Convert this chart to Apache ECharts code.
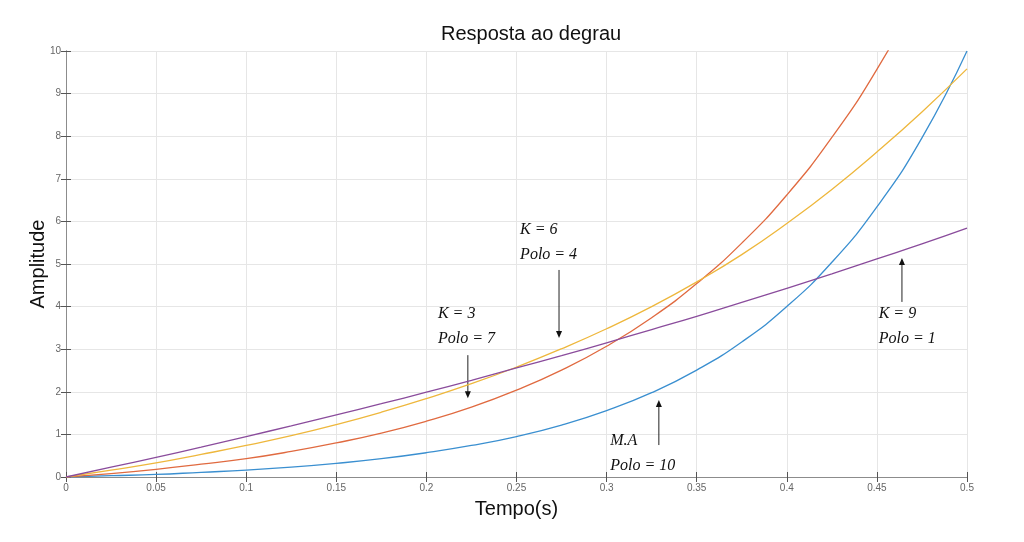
<!DOCTYPE html>
<html>
<head>
<meta charset="utf-8">
<script src="https://cdn.jsdelivr.net/npm/echarts@6/dist/echarts.min.js"></script>
<style>
  html, body { margin: 0; padding: 0; background: #fff; }
  #main { width: 1024px; height: 542px; }
</style>
</head>
<body>
<div id="main"></div>
<script>
// tempo (s)
const tempo = [0, 0.025, 0.05, 0.075, 0.1, 0.125, 0.15, 0.175, 0.2, 0.225, 0.25,
  0.275, 0.3, 0.325, 0.35, 0.375, 0.4, 0.425, 0.45, 0.475, 0.5];

// M.A, polo = 10
const malhaAberta = [0, 0.03, 0.06, 0.11, 0.16, 0.23, 0.32, 0.43, 0.57, 0.74, 0.95,
  1.22, 1.56, 1.98, 2.51, 3.17, 4.0, 5.04, 6.34, 7.96, 10.0];
// K = 3, polo = 7
const k3 = [0, 0.08, 0.18, 0.3, 0.43, 0.6, 0.8, 1.03, 1.31, 1.64, 2.04,
  2.51, 3.07, 3.74, 4.54, 5.49, 6.62, 7.97, 9.57, 11.49, 13.76];
// K = 6, polo = 4
const k6 = [0, 0.16, 0.33, 0.53, 0.74, 0.97, 1.23, 1.52, 1.84, 2.19, 2.58,
  3.01, 3.48, 4.0, 4.58, 5.22, 5.95, 6.75, 7.63, 8.57, 9.58];
// K = 9, polo = 1
const k9 = [0, 0.23, 0.46, 0.7, 0.95, 1.2, 1.46, 1.72, 1.99, 2.27, 2.56,
  2.85, 3.15, 3.46, 3.77, 4.1, 4.43, 4.77, 5.12, 5.47, 5.84];

const pares = (ys) => tempo.map((t, i) => [t, ys[i]]);

const chart = echarts.init(document.getElementById('main'));

const eixoCinza = '#8c8c8c';
const fonte = '"Liberation Sans", Arial, sans-serif';

const serie = (nome, ys, cor) => ({
  name: nome,
  type: 'line',
  data: pares(ys),
  smooth: true,
  showSymbol: false,
  clip: true,
  lineStyle: { color: cor, width: 1.3 },
  itemStyle: { color: cor },
  silent: true
});

const option = {
  animation: false,
  backgroundColor: '#fff',
  title: {
    text: 'Resposta ao degrau',
    left: 436,
    top: 19,
    textStyle: { fontFamily: fonte, fontSize: 20, fontWeight: 'normal', color: '#111' }
  },
  grid: { left: 66, right: 57, top: 51, bottom: 65 },
  xAxis: [{
    type: 'value', min: 0, max: 0.5, interval: 0.05,
    name: 'Tempo(s)', nameLocation: 'middle', nameGap: 22,
    nameTextStyle: { fontFamily: fonte, fontSize: 20, color: '#111' },
    axisLine: { show: true, lineStyle: { color: eixoCinza, width: 1 } },
    axisTick: { show: true, inside: true, length: 5, lineStyle: { color: '#555' } },
    axisLabel: { fontFamily: fonte, fontSize: 10, color: '#666', margin: 6 },
    splitLine: { show: true, lineStyle: { color: '#e6e6e6', width: 1 } }
  }, {
    type: 'value', min: 0, max: 0.5, interval: 0.05, position: 'top',
    axisLine: { show: true, lineStyle: { color: eixoCinza, width: 1 } },
    axisTick: { show: true, inside: true, length: 5, lineStyle: { color: '#555' } },
    axisLabel: { show: false },
    splitLine: { show: false }
  }],
  yAxis: [{
    type: 'value', min: 0, max: 10, interval: 1,
    name: 'Amplitude', nameLocation: 'middle', nameGap: 18, nameMoveOverlap: false,
    nameTextStyle: { fontFamily: fonte, fontSize: 20, color: '#111' },
    axisLine: { show: true, lineStyle: { color: eixoCinza, width: 1 } },
    axisTick: { show: true, inside: true, length: 5, lineStyle: { color: '#555' } },
    axisLabel: { fontFamily: fonte, fontSize: 10, color: '#666', margin: 5 },
    splitLine: { show: true, lineStyle: { color: '#e6e6e6', width: 1 } }
  }, {
    type: 'value', min: 0, max: 10, interval: 1, position: 'right',
    axisLine: { show: true, lineStyle: { color: eixoCinza, width: 1 } },
    axisTick: { show: true, inside: true, length: 5, lineStyle: { color: '#555' } },
    axisLabel: { show: false },
    splitLine: { show: false }
  }],
  series: [
    serie('M.A', malhaAberta, '#3a8fd0'),
    serie('K = 3', k3, '#e06a40'),
    serie('K = 6', k6, '#eeb73c'),
    serie('K = 9', k9, '#8a4c9c')
  ]
};
chart.setOption(option);

// anotações (posições em coordenadas do gráfico)
const notas = [
  { linhas: ['K = 6', 'Polo = 4'], texto: [0.252, 5.75], seta: [0.2736, 4.86, 3.26] },
  { linhas: ['K = 3', 'Polo = 7'], texto: [0.2064, 3.78], seta: [0.223, 2.86, 1.85] },
  { linhas: ['M.A', 'Polo = 10'], texto: [0.302, 0.80], seta: [0.329, 0.75, 1.81] },
  { linhas: ['K = 9', 'Polo = 1'], texto: [0.451, 3.78], seta: [0.4639, 4.11, 5.14] }
];

const px = (x, y) => chart.convertToPixel({ xAxisIndex: 0, yAxisIndex: 0 }, [x, y]);
const graficos = [];
notas.forEach((n) => {
  const p = px(n.texto[0], n.texto[1]);
  n.linhas.forEach((l, i) => {
    graficos.push({
      type: 'text', left: p[0], top: p[1] - 10 + i * 25,
      style: {
        text: l, fill: '#111',
        font: 'italic 16px "Liberation Serif", "DejaVu Serif", serif'
      }
    });
  });
  const a = px(n.seta[0], n.seta[1]);
  const b = px(n.seta[0], n.seta[2]);
  const dir = b[1] > a[1] ? 1 : -1;
  graficos.push({
    type: 'line',
    shape: { x1: a[0], y1: a[1], x2: b[0], y2: b[1] - dir * 6 },
    style: { stroke: '#222', lineWidth: 1 }
  });
  graficos.push({
    type: 'polygon',
    shape: { points: [[b[0], b[1]], [b[0] - 3, b[1] - dir * 7], [b[0] + 3, b[1] - dir * 7]] },
    style: { fill: '#111' }
  });
});
chart.setOption({ graphic: graficos });
</script>
</body>
</html>
